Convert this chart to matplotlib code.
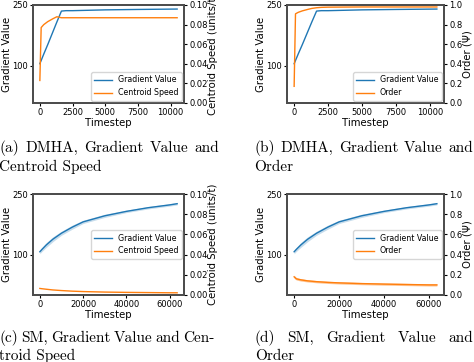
import numpy as np
import matplotlib.pyplot as plt

# DMHA runs (top row)
t_dmha = [0, 100, 300, 600, 1000, 1300, 1650, 2000, 2500, 5000, 7500, 10500]
grad_dmha = [105, 113, 129, 152, 184, 208, 235, 236, 236, 238, 239, 240]
speed_dmha = [0.023, 0.077, 0.080, 0.083, 0.086, 0.088, 0.087, 0.087, 0.087, 0.087, 0.087, 0.087]
order_dmha = [0.17, 0.91, 0.925, 0.94, 0.955, 0.965, 0.972, 0.976, 0.978, 0.98, 0.98, 0.98]

# SM runs (bottom row)
t_sm = [0, 1000, 3000, 6000, 10000, 15000, 20000, 30000, 40000, 50000, 60000, 63500]
grad_sm = [107, 113, 124, 138, 153, 168, 181, 196, 207, 216, 223, 226]
grad_sm_sd = [5, 5, 6, 6, 5, 5, 4, 4, 3, 3, 3, 3]
speed_sm = [0.0065, 0.0062, 0.0057, 0.005, 0.0044, 0.0038, 0.0034, 0.0029, 0.0026, 0.0024, 0.0022, 0.0022]
order_sm = [0.18, 0.16, 0.15, 0.14, 0.132, 0.125, 0.12, 0.113, 0.108, 0.104, 0.10, 0.10]
order_sm_sd = [0.015, 0.012, 0.012, 0.011, 0.011, 0.011, 0.011, 0.011, 0.011, 0.011, 0.011, 0.011]

captions = [
    ("(a) DMHA, Gradient Value and", "Centroid Speed"),
    ("(b) DMHA, Gradient Value and", "Order"),
    ("(c) SM, Gradient Value and Cen-", "troid Speed"),
    ("(d) SM, Gradient Value and", "Order"),
]

W, H = 474, 362
fig = plt.figure(figsize=(W / 100, H / 100), dpi=100)

TICK = 6.0
LAB = 7.3
LEG = 5.7
SPINE = '0.3'


def style(ax):
    for s in ax.spines.values():
        s.set_color(SPINE)
        s.set_linewidth(1.3)
    ax.tick_params(labelsize=TICK, length=2.5, width=0.8, pad=1.2, colors='black')


def panel(l, r, t_px, b_px, t, grad, other, other_label, right_label, ylim_l, ylim_r,
          rticks, rlabels, xticks, legend_loc, ylab_px, rlab_px, grad_sd=None, other_sd=None):
    ax = fig.add_axes([l / W, 1 - b_px / H, (r - l) / W, (b_px - t_px) / H])
    ax2 = ax.twinx()
    l1, = ax.plot(t, grad, color='C0', lw=1.0, label='Gradient Value')
    if grad_sd is not None:
        g = np.array(grad)
        sd = np.array(grad_sd)
        ax.fill_between(t, g - sd, g + sd, color='C0', alpha=0.25, lw=0)
    l2, = ax2.plot(t, other, color='C1', lw=1.0, label=other_label)
    if other_sd is not None:
        o = np.array(other)
        sd = np.array(other_sd)
        ax2.fill_between(t, o - sd, o + sd, color='C1', alpha=0.45, lw=0)
    ax.set_ylim(*ylim_l)
    ax.set_yticks([100, 250])
    ax2.set_ylim(*ylim_r)
    ax2.set_yticks(rticks, rlabels)
    ax.set_xticks(xticks)
    ax.set_xlabel('Timestep', fontsize=LAB, labelpad=0.5)
    ax.set_ylabel('Gradient Value', fontsize=LAB)
    ax2.set_ylabel(right_label, fontsize=LAB)
    ax.yaxis.set_label_coords((ylab_px - l) / (r - l), 0.5)
    ax2.yaxis.set_label_coords((rlab_px - l) / (r - l), 0.5)
    style(ax)
    style(ax2)
    ax2.legend([l1, l2], ['Gradient Value', other_label], loc=legend_loc,
               fontsize=LEG, borderaxespad=0.3, handlelength=2.2)
    return ax


speed_ticks = [0, 0.02, 0.04, 0.06, 0.08, 0.10]
speed_labels = ['0.00', '0.02', '0.04', '0.06', '0.08', '0.10']
order_ticks = [0, 0.2, 0.4, 0.6, 0.8, 1.0]
order_labels = ['0.0', '0.2', '0.4', '0.6', '0.8', '1.0']

panel(33, 184, 5, 103, t_dmha, grad_dmha, speed_dmha, 'Centroid Speed',
      'Centroid Speed (units/t)', (8, 250), (0, 0.1), speed_ticks, speed_labels,
      [0, 2500, 5000, 7500, 10000], 'lower right', 12, 208)
panel(287, 444, 5, 103, t_dmha, grad_dmha, order_dmha, 'Order',
      'Order (\u03a8)', (8, 250), (0, 1.0), order_ticks, order_labels,
      [0, 2500, 5000, 7500, 10000], 'lower right', 266, 462)
panel(33, 184, 194, 295, t_sm, grad_sm, speed_sm, 'Centroid Speed',
      'Centroid Speed (units/t)', (0, 250), (0, 0.1), speed_ticks, speed_labels,
      [0, 20000, 40000, 60000], 'center right', 12, 208, grad_sd=grad_sm_sd)
panel(287, 444, 194, 295, t_sm, grad_sm, order_sm, 'Order',
      'Order (\u03a8)', (0, 250), (0, 1.0), order_ticks, order_labels,
      [0, 20000, 40000, 60000], 'center right', 266, 462,
      grad_sd=grad_sm_sd, other_sd=order_sm_sd)

# captions, first line justified like the LaTeX subcaptions
CAP = 11
renderer = fig.canvas.get_renderer()


def justify(words, x0, x1, y):
    texts = [fig.text(0, 1 - y / H, w, fontsize=CAP, family='cmr10', va='baseline')
             for w in words]
    widths = [tx.get_window_extent(renderer).width for tx in texts]
    gap = (x1 - x0 - sum(widths)) / (len(words) - 1)
    x = x0
    for tx, w in zip(texts, widths):
        tx.set_x(x / W)
        x += w + gap


cap_pos = [(-1, 219.5, 152, 171), (254, 473, 152, 171),
           (-1, 215, 342, 360), (255, 473, 342, 360)]
for (line1, line2), (x0, x1, y1, y2) in zip(captions, cap_pos):
    justify(line1.split(' '), x0, x1, y1)
    fig.text(x0 / W, 1 - y2 / H, line2, fontsize=CAP, family='cmr10', va='baseline')

fig.savefig('out.png', dpi=100)
